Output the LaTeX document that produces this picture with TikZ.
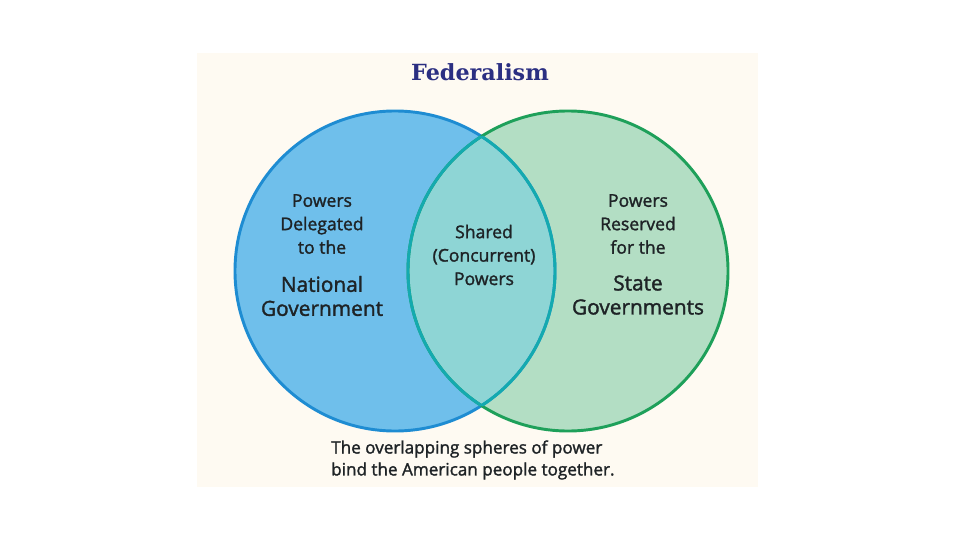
\documentclass[tikz,border=0pt]{standalone}
\usepackage{fontspec}
\setmainfont{Open Sans}[FakeBold=1.6, AutoFakeBold=1.6]
\newfontfamily\titlefont{DejaVu Serif}

\definecolor{cream}{RGB}{254,250,242}
\definecolor{navy}{RGB}{43,47,130}
\definecolor{textdark}{RGB}{30,35,38}
\definecolor{bluefill}{RGB}{111,191,235}
\definecolor{blueline}{RGB}{30,140,210}
\definecolor{greenfill}{RGB}{179,222,196}
\definecolor{greenline}{RGB}{30,160,90}
\definecolor{lensfill}{RGB}{142,213,213}
\definecolor{lensline}{RGB}{20,170,175}

\begin{document}
\begin{tikzpicture}[x=0.03cm,y=-0.03cm,
    powers/.style={align=center, text=textdark, inner sep=0pt,
      font=\fontsize{15}{20}\selectfont},
    govt/.style={align=center, text=textdark, inner sep=0pt,
      font=\fontsize{17.8}{20.5}\selectfont}]

  \useasboundingbox (0,0) rectangle (960,540);
  \fill[cream] (197,53) rectangle (758,487);

  \node[font=\titlefont\bfseries\fontsize{19}{22}\selectfont, text=navy] (title) at (480,72) {Federalism};

  % the two spheres
  \fill[bluefill] (395,271) circle[radius=4.8cm];
  \fill[greenfill] (568,271) circle[radius=4.8cm];
  \begin{scope}
    \clip (395,271) circle[radius=4.8cm];
    \fill[lensfill] (568,271) circle[radius=4.8cm];
  \end{scope}
  \draw[blueline, line width=2.5pt] (395,271) circle[radius=4.8cm];
  \draw[greenline, line width=2.5pt] (568,271) circle[radius=4.8cm];
  \begin{scope}
    \clip (395,271) circle[radius=4.8cm];
    \draw[lensline, line width=2.5pt] (568,271) circle[radius=4.8cm];
  \end{scope}
  \begin{scope}
    \clip (568,271) circle[radius=4.8cm];
    \draw[lensline, line width=2.5pt] (395,271) circle[radius=4.8cm];
  \end{scope}

  \node[powers] (natpow) at (322,224) {Powers\\Delegated\\to the};
  \node[govt] (nat) at (322,296) {National\\Government};

  \node[powers] (shared) at (484,255) {Shared\\(Concurrent)\\Powers};

  \node[powers] (statepow) at (638,224) {Powers\\Reserved\\for the};
  \node[govt] (state) at (638,295) {State\\Governments};

  \node[align=left, anchor=west, text=textdark, inner sep=0pt,
    font=\fontsize{14.6}{18.7}\selectfont] (caption) at (331,460)
    {The overlapping spheres of power\\bind the American people together.};

\end{tikzpicture}
\end{document}
